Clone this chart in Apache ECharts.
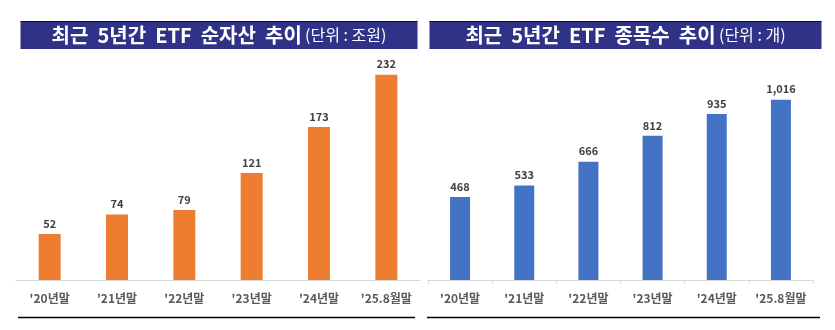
<!DOCTYPE html>
<html><head><meta charset="utf-8">
<script src="https://cdn.jsdelivr.net/npm/echarts@6/dist/echarts.min.js"></script>
<style>html,body{margin:0;padding:0;background:#fff}#c{width:835px;height:330px}</style>
</head><body><div id="c"></div>
<script>
const categories = ["'20년말", "'21년말", "'22년말", "'23년말", "'24년말", "'25.8월말"];
const netAssets = [52, 74, 79, 121, 173, 232];
const etfCounts = [468, 533, 666, 812, 935, 1016];
const leftTitle = "최근  5년간  ETF  순자산  추이";
const leftUnit = "(단위 : 조원)";
const rightTitle = "최근  5년간  ETF  종목수  추이";
const rightUnit = "(단위 : 개)";

const FONT = "'Noto Sans CJK KR', 'Noto Sans', sans-serif";
const chart = echarts.init(document.getElementById('c'));
const banner = '#2F3286';
function bannerGroup(x, w, title, unit) {
  return {
    type: 'group', left: x, top: 19,
    children: [
      {type: 'rect', shape: {x: 0, y: 0, width: w, height: 28}, style: {fill: banner}},
      {type: 'line', shape: {x1: 0, y1: 0.5, x2: w, y2: 0.5}, style: {stroke: '#111', lineWidth: 1}},
      {type: 'text', x: w / 2, y: 14, style: {
        text: '{t|' + title + '} {u|' + unit + '}', align: 'center', verticalAlign: 'middle',
        rich: {
          t: {fontFamily: FONT, fontSize: 20, fontWeight: 'bold', fill: '#fff'},
          u: {fontFamily: FONT, fontSize: 16, fill: '#fff'}
        }
      }}
    ]
  };
}
const labelStyle = {show: true, position: 'top', distance: 5, fontFamily: FONT, fontSize: 11, fontWeight: 'bold', color: '#404040'};
const xLabel = {fontFamily: FONT, fontSize: 12, fontWeight: 'bold', color: '#595959', margin: 12, interval: 0};

chart.setOption({
  animation: false,
  grid: [
    {left: 16, top: 50, width: 404, height: 230},
    {left: 428, top: 67, width: 385, height: 213}
  ],
  xAxis: [
    {type: 'category', gridIndex: 0, data: categories, axisLine: {lineStyle: {color: '#d9d9d9'}}, axisTick: {show: false}, axisLabel: xLabel},
    {type: 'category', gridIndex: 1, data: categories, axisLine: {lineStyle: {color: '#d9d9d9'}}, axisTick: {show: true, length: 4, interval: 0, lineStyle: {color: '#d9d9d9'}}, axisLabel: xLabel}
  ],
  yAxis: [
    {type: 'value', gridIndex: 0, min: 0, max: 260, show: false, splitLine: {show: false}},
    {type: 'value', gridIndex: 1, min: 0, max: 1200, show: false, splitLine: {show: false}}
  ],
  series: [
    {type: 'bar', xAxisIndex: 0, yAxisIndex: 0, data: netAssets, barWidth: 22, itemStyle: {color: '#ED7D31'},
      label: labelStyle},
    {type: 'bar', xAxisIndex: 1, yAxisIndex: 1, data: etfCounts, barWidth: 20, itemStyle: {color: '#4472C4'},
      label: Object.assign({}, labelStyle, {formatter: p => p.value.toLocaleString('en-US')})}
  ],
  graphic: [
    bannerGroup(18, 397, leftTitle, leftUnit),
    bannerGroup(427, 392, rightTitle, rightUnit),
    {type: 'line', shape: {x1: 18, y1: 317.5, x2: 415, y2: 317.5}, style: {stroke: '#000', lineWidth: 1.5}},
    {type: 'line', shape: {x1: 427, y1: 317.5, x2: 820, y2: 317.5}, style: {stroke: '#000', lineWidth: 1.5}}
  ]
});
</script></body></html>
